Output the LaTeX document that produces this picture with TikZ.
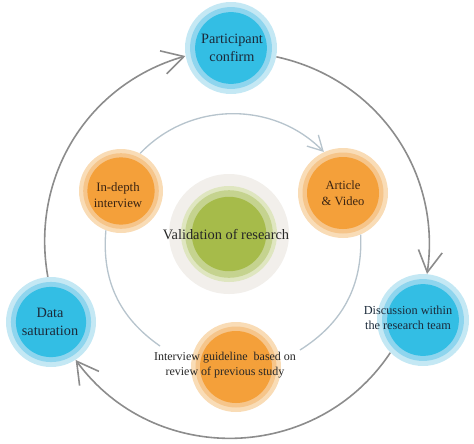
\documentclass[tikz,border=0pt]{standalone}
\usepackage{fontspec}
\setmainfont{Liberation Serif}
\usetikzlibrary{arrows.meta}
\definecolor{blA}{HTML}{C4E8F4}
\definecolor{blB}{HTML}{8ED5EE}
\definecolor{blC}{HTML}{33BEE4}
\definecolor{orA}{HTML}{F9DCB6}
\definecolor{orB}{HTML}{F6C58A}
\definecolor{orC}{HTML}{F4A03A}
\definecolor{grA}{HTML}{F2EFEB}
\definecolor{grB}{HTML}{DFE6C0}
\definecolor{grC}{HTML}{C5D38F}
\definecolor{grD}{HTML}{A6BB4A}
\definecolor{arcgray}{HTML}{8C8C8C}
\definecolor{arcblue}{HTML}{B7C4CD}
\definecolor{bluetext}{HTML}{1B2A3A}
\definecolor{oratext}{HTML}{3B2412}
\begin{document}
\begin{tikzpicture}[x=0.75pt,y=0.75pt,
  bluenode/.style={circle,inner sep=0pt,minimum size=2*#1,fill=blA,
    path picture={\fill[blB] (path picture bounding box.center) circle[radius=0.89*#1];
                  \fill[blC] (path picture bounding box.center) circle[radius=0.78*#1];}},
  oranode/.style={circle,inner sep=0pt,minimum size=2*#1,fill=orA,
    path picture={\fill[orB] (path picture bounding box.center) circle[radius=0.9*#1];
                  \fill[orC] (path picture bounding box.center) circle[radius=0.8*#1];}},
  greennode/.style={circle,inner sep=0pt,minimum size=2*#1,fill=grA,
    path picture={\fill[grB] (path picture bounding box.center) circle[radius=0.8*#1];
                  \fill[grC] (path picture bounding box.center) circle[radius=0.73*#1];
                  \fill[grD] (path picture bounding box.center) circle[radius=0.62*#1];}},
  btext/.style={align=center,text=bluetext,inner sep=0pt},
  otext/.style={align=center,text=oratext,inner sep=0pt},
  outarc/.style={draw=arcgray,line width=1.2pt},
  inarc/.style={draw=arcblue,line width=1pt},
  bigtip/.style={-{Straight Barb[length=16pt,width=18pt]}},
  smalltip/.style={-{Straight Barb[length=11pt,width=12pt]}}
]
\useasboundingbox (0,0) rectangle (474,-443);

% nodes
\node[bluenode=34.5pt] (pc) at (231,-48) {};
\node[bluenode=34.5pt] (disc) at (423,-320) {};
\node[bluenode=33.75pt] (ds) at (51,-322) {};
\node[oranode=31.5pt] (id) at (121,-191) {};
\node[oranode=33.75pt] (art) at (343,-193) {};
\node[oranode=33.75pt] (gl) at (236,-367) {};
\node[greennode=45pt] (val) at (229,-234) {};

% texts
\node[btext,font=\fontsize{10.7}{13.5}\selectfont] (pct) at (232,-48) {Participant\\confirm};
\node[btext,font=\fontsize{10.7}{14}\selectfont] (dst) at (50,-322) {Data\\saturation};
\node[btext,font=\fontsize{9.2}{11.2}\selectfont] (disct) at (408,-318) {Discussion within\\the research team};
\node[otext,font=\fontsize{9.6}{12}\selectfont] (idt) at (118,-195) {In-depth\\interview};
\node[otext,font=\fontsize{9.4}{12}\selectfont] (artt) at (343,-193) {Article\\\& Video};
\node[align=center,inner sep=0pt,text=black!85,font=\fontsize{10.8}{13}\selectfont] (valt) at (226,-235) {Validation of research};
\node[align=center,inner sep=0pt,text=black!85,font=\fontsize{9}{11.2}\selectfont] (glt) at (225,-365) {Interview guideline\ \ based on\\review of previous study};

% free ends of the inner ring near the guideline text
\coordinate (g2) at (300,-350);
\coordinate (g3) at (160,-346);

% outer cycle
\draw[outarc,bigtip] (ds.94) to[bend left=42] (pc.190);
\draw[outarc,bigtip] (pc.-11) to[bend left=43] (disc.85);
\draw[outarc,bigtip] (disc.225) to[bend left=55,looseness=1.08] (ds.-57);

% inner cycle
\draw[inarc,smalltip] (id.63) to[bend left=46] (art.115);
\draw[inarc] (art.-67) to[bend left=30] (g2);
\draw[inarc] (g3) to[bend left=30] (id.249);
\end{tikzpicture}
\end{document}
